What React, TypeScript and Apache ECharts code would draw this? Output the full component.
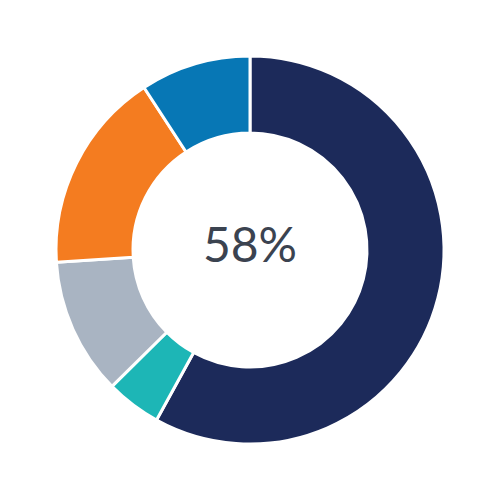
import React, { useEffect, useRef } from 'react'
import * as echarts from 'echarts'

const labels = ['A', 'B', 'C', 'D', 'E']
const values = [58, 4.6, 11.4, 16.8, 9.2]
const colors = ['#1c2a5a', '#1db6b6', '#a9b4c2', '#f47c20', '#0777b5']
const centerText = '58%'

export default function App(): JSX.Element {
  const ref = useRef<HTMLDivElement>(null)

  useEffect(() => {
    if (!ref.current) return
    const chart = echarts.init(ref.current, null, { renderer: 'svg' })
    chart.setOption({
      animation: false,
      graphic: [{
        type: 'text', left: 'center', top: 219,
        style: { text: centerText, font: 'normal 48px Lato', fill: '#3b4350' },
      }],
      series: [{
        type: 'pie',
        center: ['50%', '50%'],
        radius: [117, 194],
        startAngle: 90,
        clockwise: true,
        label: { show: false },
        labelLine: { show: false },
        emphasis: { disabled: true },
        itemStyle: { borderColor: '#ffffff', borderWidth: 3 },
        data: labels.map((n, i) => ({ name: n, value: values[i], itemStyle: { color: colors[i] } })),
      }],
    })
    return () => chart.dispose()
  }, [])

  return <div ref={ref} style={{ position: 'absolute', left: 0, top: 0, width: 500, height: 500 }} />
}
